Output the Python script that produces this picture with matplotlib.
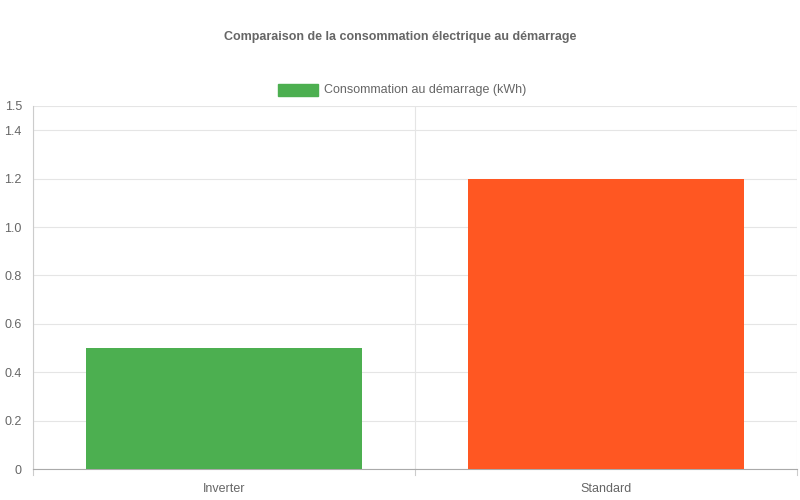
import matplotlib.pyplot as plt
from matplotlib.patches import Rectangle

categories = ["Inverter", "Standard"]
values = [0.5, 1.2]
colors = ["#4caf50", "#ff5722"]
series_label = "Consommation au démarrage (kWh)"
title = "Comparaison de la consommation électrique au démarrage"
yticks = [0, 0.2, 0.4, 0.6, 0.8, 1.0, 1.2, 1.4, 1.5]

plt.rcParams["font.family"] = ["Liberation Sans", "DejaVu Sans"]

fig = plt.figure(figsize=(8, 5), dpi=100)
ax = fig.add_axes([33 / 800, 31 / 500, 764 / 800, 363 / 500])

x = range(len(categories))
ax.bar(x, values, width=0.72, color=colors, zorder=3)
ax.set_xlim(-0.5, len(categories) - 0.5)
ax.set_ylim(0, 1.5)
ax.set_yticks(yticks)
ax.set_yticklabels(["0" if v == 0 else f"{v:.1f}" for v in yticks])
ax.set_xticks(list(x))
ax.set_xticklabels(categories)

ax.grid(axis="y", color="#e5e5e5", linewidth=0.8, zorder=0)
for b in [-0.5, 0.5, 1.5]:
    ax.axvline(b, color="#e5e5e5", linewidth=0.8, zorder=0)
    ax.plot([b, b], [0, -0.025], color="#cccccc", linewidth=0.8,
            clip_on=False, transform=ax.transData)
for s in ["top", "right"]:
    ax.spines[s].set_visible(False)
ax.spines["left"].set_color("#cccccc")
ax.spines["bottom"].set_color("#aaaaaa")
ax.tick_params(axis="both", colors="#666666", labelsize=9, length=0)
ax.tick_params(axis="y", pad=8)
ax.tick_params(axis="x", pad=10)

fig.text(0.5, 1 - 37 / 500, title, ha="center", va="center",
         fontsize=9, fontweight="bold", color="#666666")
fig.patches.append(Rectangle((278 / 800, 1 - 96 / 500), 40 / 800, 12 / 500,
                             transform=fig.transFigure, color=colors[0]))
fig.text(324 / 800, 1 - 90 / 500, series_label, ha="left", va="center",
         fontsize=9, color="#666666")

fig.savefig("out.png", dpi=100)
